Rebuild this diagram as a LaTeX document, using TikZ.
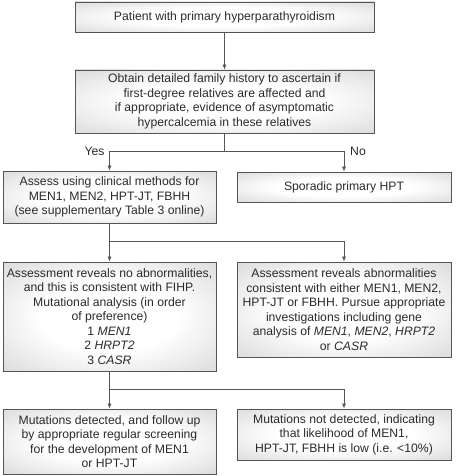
\documentclass[tikz,border=0pt]{standalone}
\usepackage{fontspec}
\setmainfont{Liberation Sans}
\usepackage{xcolor}
\usetikzlibrary{arrows.meta,positioning}
\definecolor{boxline}{HTML}{555555}
\definecolor{boxedge}{HTML}{C2C2C2}
\definecolor{inktext}{HTML}{2B2B2B}
\pgfdeclareradialshading{boxglow}{\pgfpoint{0bp}{0bp}}{color(0bp)=(white); color(16bp)=(white); color(50bp)=(boxedge); color(72bp)=(boxedge)}

\begin{document}
\begin{tikzpicture}[x=1pt, y=-1pt,
    flowbox/.style={draw=boxline, line width=0.8pt, shading=boxglow, align=center,
        inner sep=0pt, text=inktext, font=\fontsize{12.2}{14.5}\selectfont},
    flowline/.style={draw=boxline, line width=0.6pt},
    flowarrow/.style={flowline, -{Latex[length=5pt,width=4pt]}},
    branchlabel/.style={text=inktext, font=\fontsize{12.2}{14.5}\selectfont}]
    \useasboundingbox (0,0) rectangle (455,476);

    % Top of the chart
    \node[flowbox, minimum width=299pt, minimum height=30pt] (patient) at (224.5,17)
        {Patient with primary hyperparathyroidism};
    \node[flowbox, minimum width=299pt, minimum height=63pt] (family) at (224.5,101.5)
        {Obtain detailed family history to ascertain if\\
         first-degree relatives are affected and\\
         if appropriate, evidence of asymptomatic\\
         hypercalcemia in these relatives};
    \draw[flowarrow] (patient) -- (family);

    % Yes / No branch
    \node[flowbox, minimum width=213pt, minimum height=52pt] (assess) at (109.5,197)
        {Assess using clinical methods for\\
         MEN1, MEN2, HPT-JT, FBHH\\
         (see supplementary Table 3 online)};
    \node[flowbox, minimum width=214pt, minimum height=30pt] (sporadic) at (344,187)
        {Sporadic primary HPT};
    \coordinate (famsplit) at (224.5,151);
    \draw[flowline] (family) -- (famsplit);
    \draw[flowarrow] (famsplit) -| (assess);
    \draw[flowarrow] (famsplit) -| (sporadic);
    \node[branchlabel] (yes) at (94.5,151) {Yes};
    \node[branchlabel] (no) at (358,151) {No};

    % Outcome of assessment
    \node[flowbox, minimum width=213pt, minimum height=109pt] (fihp) at (109.5,316.5)
        {Assessment reveals no abnormalities,\\
         and this is consistent with FIHP.\\
         Mutational analysis (in order\\
         of preference)\\
         1 \textit{MEN1}\\
         2 \textit{HRPT2}\\
         3 \textit{CASR}};
    \node[flowbox, minimum width=214pt, minimum height=95pt] (abnormal) at (344,309.5)
        {Assessment reveals abnormalities\\
         consistent with either MEN1, MEN2,\\
         HPT-JT or FBHH. Pursue appropriate\\
         investigations including gene\\
         analysis of \textit{MEN1}, \textit{MEN2}, \textit{HRPT2}\\
         or \textit{CASR}};
    \coordinate (assplit) at (109.5,241);
    \draw[flowarrow] (assess) -- (fihp);
    \draw[flowarrow] (assplit) -| (abnormal);

    % Mutational analysis results
    \node[flowbox, minimum width=213pt, minimum height=65pt] (detected) at (109.5,441.5)
        {Mutations detected, and follow up\\
         by appropriate regular screening\\
         for the development of MEN1\\
         or HPT-JT};
    \node[flowbox, minimum width=214pt, minimum height=51pt] (notdetected) at (344,434.5)
        {Mutations not detected, indicating\\
         that likelihood of MEN1,\\
         HPT-JT, FBHH is low (i.e. <10\%)};
    \coordinate (mutsplit) at (109.5,389);
    \draw[flowarrow] (fihp) -- (detected);
    \draw[flowarrow] (mutsplit) -| (notdetected);
\end{tikzpicture}
\end{document}
